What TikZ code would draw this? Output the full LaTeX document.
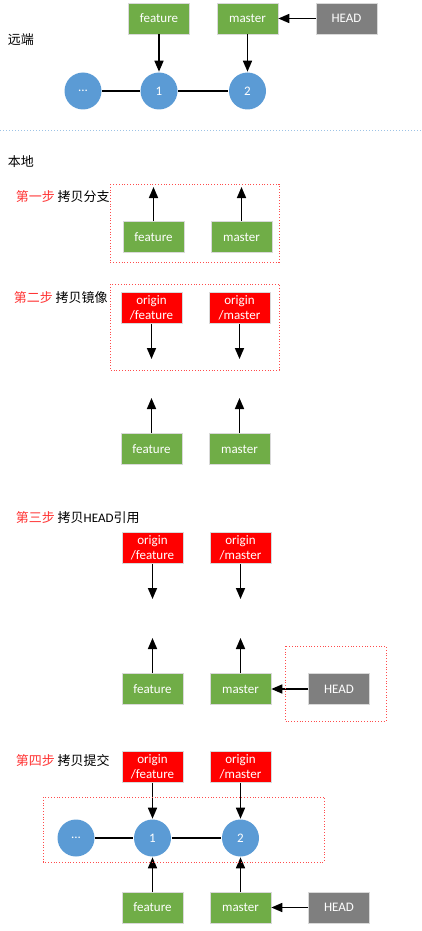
\documentclass[tikz,border=0pt]{standalone}
\usepackage{fontspec}
\setmainfont{Carlito}
\newfontfamily\cjk{Noto Sans CJK SC}
\usepackage{tikz}
\usetikzlibrary{arrows.meta}
\usetikzlibrary{positioning}

\definecolor{branchgreen}{RGB}{112,173,71}
\definecolor{commitblue}{RGB}{91,155,213}
\definecolor{headgray}{RGB}{127,127,127}
\definecolor{originred}{RGB}{255,0,0}
\definecolor{steptitle}{RGB}{255,51,51}
\definecolor{sepblue}{RGB}{157,195,230}

\newcommand{\stepname}[2]{{\cjk\color{steptitle}#1} {\cjk #2}}

\begin{document}
\begin{tikzpicture}[x=1pt, y=-1pt, ->, >={Triangle[length=11pt,width=9pt]}, line width=1.6pt,
    box/.style={rectangle, minimum width=61pt, minimum height=31pt, inner sep=0pt,
        text=white, align=center, draw=black!15, line width=0.6pt,
        font=\fontsize{13}{15}\selectfont},
    branch/.style={box, fill=branchgreen},
    origin/.style={box, fill=originred},
    headref/.style={box, fill=headgray},
    commit/.style={circle, fill=commitblue, minimum size=37pt, inner sep=0pt,
        text=white, font=\fontsize{13}{15}\selectfont},
    stepframe/.style={-, draw=red!70, dotted, line width=0.8pt},
    caption/.style={anchor=west, inner sep=0pt, font=\fontsize{13}{15}\selectfont}]

    \useasboundingbox (0,0) rectangle (422,931);

    % Remote

    \node[caption] (remote) at (7,40) {\cjk 远端};
    \node[branch]  (rfeature) at (159,18.5) {feature};
    \node[branch]  (rmaster)  at (247.5,18.5) {master};
    \node[headref] (rhead)    at (346.5,18.5) {HEAD};
    \node[commit]  (rc0) at (83,91) {...};
    \node[commit]  (rc1) at (159,91) {1};
    \node[commit]  (rc2) at (247.5,91) {2};

    \draw[-] (rc0) -- (rc1) -- (rc2);
    \draw (rfeature) -- (rc1);
    \draw (rmaster) -- (rc2);
    \draw (rhead) -- (rmaster);

    \coordinate (sepL) at (0,131);
    \coordinate (sepR) at (422,131);
    \draw[-, sepblue, dotted, line width=1pt] (sepL) -- (sepR);

    % Local

    \node[caption] (local) at (7,162) {\cjk 本地};

    % Step 1
    \node[caption] (step1) at (15,197) {\stepname{第一步}{拷贝分支}};
    \node[branch] (feature1) at (153.5,237) {feature};
    \node[branch] (master1)  at (241.5,237) {master};
    \coordinate (feature1up) at (153.5,187);
    \coordinate (master1up)  at (241.5,187);
    \draw (feature1) -- (feature1up);
    \draw (master1) -- (master1up);
    \draw[stepframe] (110,184) rectangle (279,262);

    % Step 2
    \node[caption] (step2) at (13,298) {\stepname{第二步}{拷贝镜像}};
    \node[origin] (ofeature2) at (151.5,308) {origin\\/feature};
    \node[origin] (omaster2)  at (239.5,308) {origin\\/master};
    \coordinate (ofeature2down) at (151.5,359);
    \coordinate (omaster2down)  at (239.5,359);
    \draw (ofeature2) -- (ofeature2down);
    \draw (omaster2) -- (omaster2down);
    \draw[stepframe] (110,284) rectangle (279,370);

    \node[branch] (feature2) at (151.5,449) {feature};
    \node[branch] (master2)  at (239.5,449) {master};
    \coordinate (feature2up) at (151.5,398);
    \coordinate (master2up)  at (239.5,398);
    \draw (feature2) -- (feature2up);
    \draw (master2) -- (master2up);

    % Step 3
    \node[caption] (step3) at (15,518) {\stepname{第三步}{拷贝}HEAD{\cjk 引用}};
    \node[origin] (ofeature3) at (152.5,548) {origin\\/feature};
    \node[origin] (omaster3)  at (240.5,548) {origin\\/master};
    \coordinate (ofeature3down) at (152.5,599);
    \coordinate (omaster3down)  at (240.5,599);
    \draw (ofeature3) -- (ofeature3down);
    \draw (omaster3) -- (omaster3down);

    \node[branch]  (feature3) at (152.5,689) {feature};
    \node[branch]  (master3)  at (240.5,689) {master};
    \node[headref] (head3)    at (339,689) {HEAD};
    \coordinate (feature3up) at (152.5,638);
    \coordinate (master3up)  at (240.5,638);
    \draw (feature3) -- (feature3up);
    \draw (master3) -- (master3up);
    \draw (head3) -- (master3);
    \draw[stepframe] (285,646) rectangle (386,721);

    % Step 4
    \node[caption] (step4) at (15,761) {\stepname{第四步}{拷贝提交}};
    \node[origin] (ofeature4) at (152.5,767) {origin\\/feature};
    \node[origin] (omaster4)  at (240.5,767) {origin\\/master};
    \node[commit] (lc0) at (76,838) {...};
    \node[commit] (lc1) at (152.5,838) {1};
    \node[commit] (lc2) at (240.5,838) {2};
    \node[branch]  (feature4) at (152.5,907.5) {feature};
    \node[branch]  (master4)  at (240.5,907.5) {master};
    \node[headref] (head4)    at (339,907.5) {HEAD};

    \draw[-] (lc0) -- (lc1) -- (lc2);
    \draw (ofeature4) -- (lc1);
    \draw (omaster4) -- (lc2);
    \draw (feature4) -- (lc1);
    \draw (master4) -- (lc2);
    \draw (head4) -- (master4);
    \draw[stepframe] (43,797) rectangle (324,862);

\end{tikzpicture}
\end{document}
